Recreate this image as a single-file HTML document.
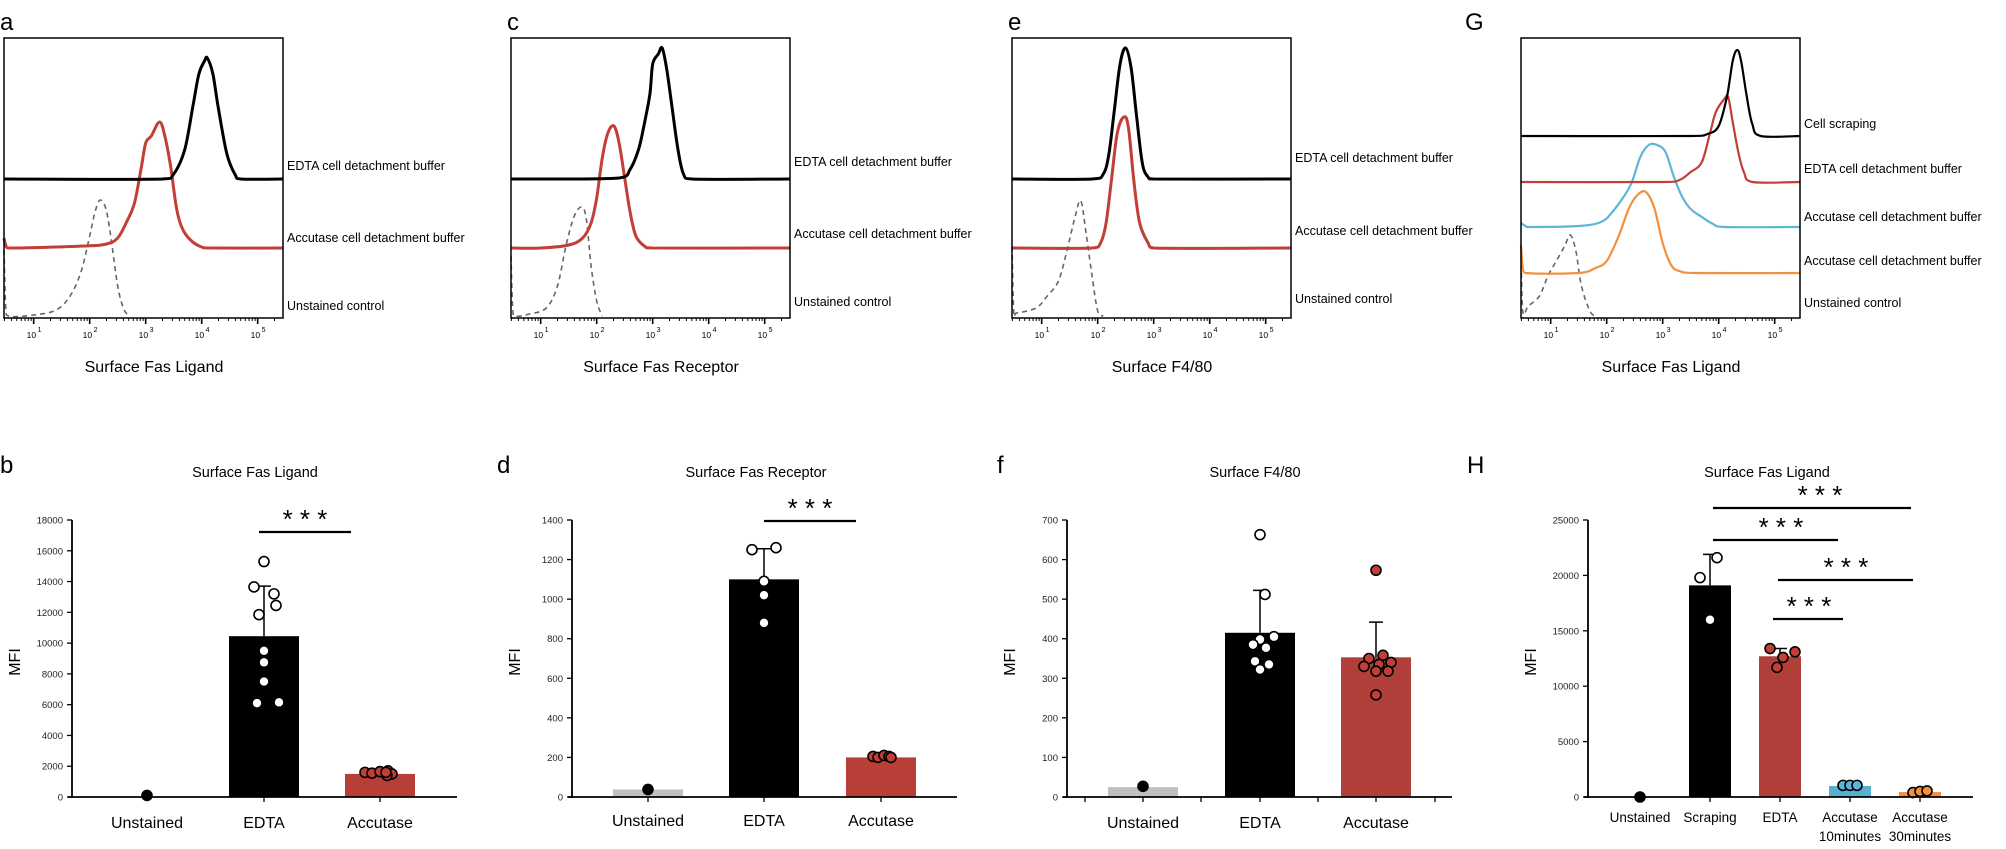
<!DOCTYPE html>
<html><head><meta charset="utf-8"><style>
html,body{margin:0;padding:0;background:#fff}
svg{display:block;font-family:"Liberation Sans",Arial,sans-serif}
</style></head><body>
<svg id="fig" width="2006" height="849" viewBox="0 0 2006 849" xmlns="http://www.w3.org/2000/svg">
<g id="root"></g>
</svg>
<script>
// ---------- Histogram data (log10 fluorescence, height in px above baseline) ----------
const aBlackLog=[0.47,3.3,3.5,3.7,3.85,3.95,4.05,4.1,4.2,4.3,4.45,4.6,4.7,5.45];
const aBlackH=[0,0,5,30,75,105,118,121,105,70,25,4,0,0];
const aRedLog=[0.47,0.5,0.55,1.9,2.3,2.5,2.65,2.8,2.92,3.0,3.1,3.25,3.35,3.45,3.55,3.65,3.8,4.0,4.2,5.45];
const aRedH=[10,3,0,2,4,10,25,45,80,105,112,126,110,80,40,20,8,1,0,0];
const aUnsLog=[0.47,0.5,0.55,1.0,1.4,1.65,1.85,2.0,2.1,2.19,2.3,2.4,2.5,2.6,2.7];
const aUnsH=[66,10,0,1,6,20,45,80,105,116,105,70,30,8,0];

const cBlackLog=[0.47,2.4,2.6,2.75,2.85,2.95,3.0,3.1,3.17,3.25,3.35,3.45,3.55,3.7,5.45];
const cBlackH=[0,1,10,30,55,85,115,125,131,110,70,30,5,0,0];
const cRedLog=[0.47,1.0,1.5,1.75,1.9,2.0,2.1,2.2,2.31,2.4,2.5,2.6,2.7,2.85,3.0,5.45];
const cRedH=[0,0,3,10,25,50,90,115,122,105,70,35,12,2,0,0];
const cUnsLog=[0.47,0.5,0.55,0.8,1.1,1.3,1.45,1.6,1.74,1.82,1.9,2.0,2.1];
const cUnsH=[60,8,0,2,8,30,70,100,109,95,50,15,0];

const eBlackLog=[0.47,1.9,2.1,2.2,2.3,2.4,2.5,2.6,2.7,2.8,2.9,3.0,5.45];
const eBlackH=[0,0,5,25,70,115,131,110,60,15,2,0,0];
const eRedLog=[0.47,1.9,2.05,2.15,2.25,2.35,2.47,2.55,2.65,2.75,2.9,3.0,5.45];
const eRedH=[0,0,5,25,70,115,131,120,65,25,5,0,0];
const eUnsLog=[0.47,0.5,0.55,0.9,1.1,1.3,1.45,1.6,1.7,1.8,1.9,2.0,2.1];
const eUnsH=[70,5,3,8,20,35,65,100,115,80,40,5,0];

const gBlackLog=[0.47,3.5,3.8,4.0,4.15,4.25,4.33,4.4,4.5,4.6,4.75,5.45];
const gBlackH=[0,0,2,10,40,75,86,75,40,12,0,0];
const gRedLog=[0.47,3.0,3.3,3.5,3.7,3.85,3.95,4.1,4.17,4.25,4.35,4.45,4.6,5.45];
const gRedH=[0,0,2,10,20,50,70,83,85,60,30,10,0,0];
const gBlueLog=[0.47,0.55,0.6,1.5,1.9,2.1,2.3,2.45,2.6,2.75,2.9,3.05,3.2,3.35,3.5,3.7,3.9,4.1,5.45];
const gBlueH=[4,1,0,1,5,15,30,45,70,82,82,75,50,30,18,10,3,0,0];
const gOrangeLog=[0.47,0.5,0.55,1.5,1.8,2.0,2.2,2.4,2.55,2.7,2.85,3.0,3.15,3.3,3.6,5.45];
const gOrangeH=[28,6,0,0,5,12,35,65,78,81,65,30,8,2,0,0];
const gUnsLog=[0.47,0.5,0.6,0.8,0.95,1.1,1.25,1.35,1.45,1.55,1.7,1.8];
const gUnsH=[70,5,10,20,40,55,70,81,65,30,5,0];

const histLabelsA=["EDTA cell detachment buffer","Accutase cell detachment buffer","Unstained control"];
const histLabelsG=["Cell scraping","EDTA cell detachment buffer","Accutase cell detachment buffer","Accutase cell detachment buffer","Unstained control"];
const decadeTicks=[1,2,3,4,5];

// ---------- Bar chart data ----------
const catsBDF=["Unstained","EDTA","Accutase"];
const bMeans=[0,10450,1500];
const bErr=[0,13700,1650];
const bPtsUns=[100];
const bPtsEdta=[15300,13650,13200,12450,11850,9500,8750,7500,6100,6150];
const bPtsAcc=[1600,1550,1650,1700,1500,1400,1600];
const bTicks=[0,2000,4000,6000,8000,10000,12000,14000,16000,18000];

const dMeans=[38,1100,200];
const dErr=[38,1255,210];
const dPtsUns=[38];
const dPtsEdta=[1250,1260,1090,1020,880];
const dPtsAcc=[205,200,210,205,200];
const dTicks=[0,200,400,600,800,1000,1200,1400];

const fMeans=[25,415,353];
const fErr=[25,522,442];
const fPtsUns=[27];
const fPtsEdta=[663,512,405,398,385,377,343,335,322];
const fPtsAcc=[573,358,350,340,335,330,318,318,258];
const fTicks=[0,100,200,300,400,500,600,700];

const catsH=["Unstained","Scraping","EDTA","Accutase|10minutes","Accutase|30minutes"];
const hMeans=[0,19100,12700,1000,450];
const hErr=[0,21900,13400,1100,500];
const hPtsUns=[0];
const hPtsScr=[21600,19800,16000];
const hPtsEdta=[13400,13100,12600,11700];
const hPtsAcc10=[1050,1050,1050];
const hPtsAcc30=[400,500,550];
const hTicks=[0,5000,10000,15000,20000,25000];

// ---------- helpers ----------
const NS="http://www.w3.org/2000/svg";
const root=document.getElementById('root');
function mk(tag,attrs,parent){const e=document.createElementNS(NS,tag);for(const k in attrs)e.setAttribute(k,attrs[k]);(parent||root).appendChild(e);return e;}
function txt(x,y,s,size,anchor,parent,extra){const t=mk('text',Object.assign({x:x,y:y,'font-size':size,'text-anchor':anchor||'start',fill:'#000'},extra||{}),parent);t.textContent=s;return t;}
function smoothPath(P){
  let d='M'+P[0][0].toFixed(1)+','+P[0][1].toFixed(1);
  for(let i=0;i<P.length-1;i++){
    const p0=P[Math.max(0,i-1)],p1=P[i],p2=P[i+1],p3=P[Math.min(P.length-1,i+2)];
    let c1x=p1[0]+(p2[0]-p0[0])/6,c1y=p1[1]+(p2[1]-p0[1])/6;
    let c2x=p2[0]-(p3[0]-p1[0])/6,c2y=p2[1]-(p3[1]-p1[1])/6;
    c1x=Math.min(Math.max(c1x,p1[0]),p2[0]);c2x=Math.min(Math.max(c2x,p1[0]),p2[0]);
    d+='C'+c1x.toFixed(1)+','+c1y.toFixed(1)+' '+c2x.toFixed(1)+','+c2y.toFixed(1)+' '+p2[0].toFixed(1)+','+p2[1].toFixed(1);
  }
  return d;
}

const FT=38,FB=318,DEC=56,L0=0.47;

function histPanel(fx,letter,title,curves,labels,labelYs){
  const g=mk('g',{});
  
  
  const lt=txt(fx-4,30,letter,24,'start',g);
  
  
  const xs=l=>fx+(l-L0)*DEC;
  curves.forEach(c=>{
    const P=c.logs.map((l,i)=>[xs(l),c.base-c.h[i]]);
    const p=mk('path',{d:smoothPath(P),fill:'none',stroke:c.color,'stroke-width':c.w,'stroke-linejoin':'round','stroke-dasharray':c.dash||'none'},g);
    
    
  });
  const fr=mk('rect',{x:fx,y:FT,width:279,height:FB-FT,fill:'none',stroke:'#000','stroke-width':1.5},g);
  
  
  for(let d=0;d<=5;d++){
    for(let m=1;m<=9;m++){
      const l=d+Math.log10(m);
      if(l<L0||l>5.45)continue;
      const x=xs(l);
      const len=m===1?6:3;
      const t=mk('line',{x1:x,x2:x,y1:FB,y2:FB+len,stroke:'#000','stroke-width':m===1?1.6:1},g);
      
      
    }
  }
  decadeTicks.forEach(d=>{
    const t=mk('text',{x:xs(d)-7,y:338,'font-size':8.5,fill:'#000'},g);
    
    
    t.textContent='10';
    const s=mk('text',{x:xs(d)+4,y:332,'font-size':7,fill:'#000'},g);
    
    
    s.textContent=String(d);
  });
  const at=txt(fx+150,372,title,16,'middle',g);
  
  
  labels.forEach((s,i)=>{
    const t=txt(fx+283,labelYs[i]+4,s,12.5,'start',g);
    
    
  });
}

const BLACK='#000',RED='#c13f37',BLUE='#5bb6d8',ORANGE='#f0913b',DASH='#666';
histPanel(4,'a','Surface Fas Ligand',[
 {logs:aUnsLog,h:aUnsH,base:316,color:DASH,w:1.6,dash:'5,4',name:'unstained-curve'},
 {logs:aRedLog,h:aRedH,base:248,color:RED,w:3,name:'accutase-curve'},
 {logs:aBlackLog,h:aBlackH,base:179,color:BLACK,w:3,name:'edta-curve'}],histLabelsA,[166,238,306]);
histPanel(511,'c','Surface Fas Receptor',[
 {logs:cUnsLog,h:cUnsH,base:316,color:DASH,w:1.6,dash:'5,4',name:'unstained-curve'},
 {logs:cRedLog,h:cRedH,base:248,color:RED,w:3,name:'accutase-curve'},
 {logs:cBlackLog,h:cBlackH,base:179,color:BLACK,w:3,name:'edta-curve'}],histLabelsA,[162,234,302]);
histPanel(1012,'e','Surface F4/80',[
 {logs:eUnsLog,h:eUnsH,base:316,color:DASH,w:1.6,dash:'5,4',name:'unstained-curve'},
 {logs:eBlackLog,h:eBlackH,base:179,color:BLACK,w:3,name:'edta-curve'},
 {logs:eRedLog,h:eRedH,base:248,color:RED,w:3,name:'accutase-curve'}],histLabelsA,[158,231,299]);
histPanel(1521,'','Surface Fas Ligand',[
 {logs:gUnsLog,h:gUnsH,base:316,color:DASH,w:1.6,dash:'5,4',name:'unstained-curve'},
 {logs:gOrangeLog,h:gOrangeH,base:273,color:ORANGE,w:2.2,name:'accutase-30min-curve'},
 {logs:gBlueLog,h:gBlueH,base:227,color:BLUE,w:2.2,name:'accutase-10min-curve'},
 {logs:gRedLog,h:gRedH,base:182,color:RED,w:2.2,name:'edta-curve'},
 {logs:gBlackLog,h:gBlackH,base:136,color:BLACK,w:2.2,name:'scraping-curve'}],histLabelsG,[124,169,217,261,303]);
{const t=txt(1465,30,'G',24,'start');}

// ---------- bar charts ----------
function barPanel(cfg){
  const g=mk('g',{});
  
  
  const Y0=797,YT=520;
  const ys=v=>Y0-(v/cfg.max)*(Y0-YT);
  const lt=txt(cfg.letterX,473,cfg.letter,24,'start',g);
  
  
  const ti=txt(cfg.titleX,477,cfg.title,14.5,'middle',g);
  
  
  const mf=txt(0,0,'MFI',16,'middle',g,{transform:'translate('+(cfg.ax-52)+',662) rotate(-90)'});
  
  
  cfg.means.forEach((m,i)=>{
    const cx=cfg.cx[i];
    const b=mk('rect',{x:cx-cfg.bw/2,y:ys(m),width:cfg.bw,height:Y0-ys(m),fill:cfg.colors[i]},g);
    
    
    if(cfg.err[i]>m){
      const e=mk('path',{d:'M'+cx+','+ys(m)+'V'+ys(cfg.err[i])+'M'+(cx-7)+','+ys(cfg.err[i])+'H'+(cx+7),stroke:'#000','stroke-width':1.5,fill:'none'},g);
      
      
    }
    const pts=cfg.pts[i];
    pts.forEach((v,j)=>{
      const dx=cfg.dx[i][j]||0;
      const c=mk('circle',{cx:cx+dx,cy:ys(v),r:cfg.r,fill:cfg.ptFill[i],stroke:cfg.ptStroke[i],'stroke-width':1.6},g);
      
      
    });
  });
  const ya=mk('line',{x1:cfg.ax,x2:cfg.ax,y1:YT,y2:Y0+1,stroke:'#000','stroke-width':1.8},g);
  
  
  const xa=mk('line',{x1:cfg.ax-4,x2:cfg.xEnd,y1:Y0,y2:Y0,stroke:'#000','stroke-width':1.8},g);
  
  
  cfg.ticks.forEach(v=>{
    const t=mk('line',{x1:cfg.ax-5,x2:cfg.ax,y1:ys(v),y2:ys(v),stroke:'#000','stroke-width':1.3},g);
    
    
    const l=txt(cfg.ax-9,ys(v)+3.5,String(v),9.5,'end',g,{fill:'#222'});
    
    
  });
  cfg.xticks.forEach(x=>{
    const t=mk('line',{x1:x,x2:x,y1:Y0,y2:Y0+5,stroke:'#000','stroke-width':1.3},g);
    
    
  });
  cfg.cats.forEach((c,i)=>{
    const parts=c.split('|');
    parts.forEach((p,k)=>{
      const l=txt(cfg.cx[i],cfg.catY+k*19,p,cfg.catSize,'middle',g);
      
      
    });
  });
  cfg.sig.forEach(s=>{
    const ln=mk('line',{x1:s[0],x2:s[1],y1:s[2],y2:s[2],stroke:'#000','stroke-width':2.2},g);
    
    
    const st=txt(s[3],s[2]-4,'*  *  *',26,'middle',g,{'xml:space':'preserve'});
    
    
  });
}
const OPEN='#fff';
barPanel({letter:'b',letterX:0,title:'Surface Fas Ligand',titleX:255,ax:72,xEnd:457,max:18000,
  cx:[147,264,380],bw:70,means:bMeans,err:bErr,colors:['#c0c0c0','#000','#b83f38'],
  pts:[bPtsUns,bPtsEdta,bPtsAcc],dx:[[0],[0,-10,10,12,-5,0,0,0,-7,15],[-15,-8,0,8,12,7,6]],
  ptFill:['#000',OPEN,'#c13f37'],ptStroke:['#000','#000','#000'],r:5,
  ticks:bTicks,xticks:[264,380],cats:catsBDF,catY:828,catSize:16,
  sig:[[259,351,532,305]]});
barPanel({letter:'d',letterX:497,title:'Surface Fas Receptor',titleX:756,ax:572,xEnd:957,max:1400,
  cx:[648,764,881],bw:70,means:dMeans,err:dErr,colors:['#c0c0c0','#000','#b83f38'],
  pts:[dPtsUns,dPtsEdta,dPtsAcc],dx:[[0],[-12,12,0,0,0],[-8,-3,3,8,10]],
  ptFill:['#000',OPEN,'#c13f37'],ptStroke:['#000','#000','#000'],r:5,
  ticks:dTicks,xticks:[648,764,881],cats:catsBDF,catY:826,catSize:16,
  sig:[[764,856,521,810]]});
barPanel({letter:'f',letterX:997,title:'Surface F4/80',titleX:1255,ax:1067,xEnd:1452,max:700,
  cx:[1143,1260,1376],bw:70,means:fMeans,err:fErr,colors:['#c0c0c0','#000','#b03f3a'],
  pts:[fPtsUns,fPtsEdta,fPtsAcc],dx:[[0],[0,5,14,0,-7,6,-5,9,0],[0,7,-7,15,3,-12,0,12,0]],
  ptFill:['#000',OPEN,'#c13f37'],ptStroke:['#000','#000','#000'],r:5,
  ticks:fTicks,xticks:[1085,1143,1201,1260,1318,1376,1435],cats:catsBDF,catY:828,catSize:16,
  sig:[]});
barPanel({letter:'H',letterX:1467,title:'Surface Fas Ligand',titleX:1767,ax:1588,xEnd:1973,max:25000,
  cx:[1640,1710,1780,1850,1920],bw:42,means:hMeans,err:hErr,colors:['#c0c0c0','#000','#b03f3a','#5aaed0','#ee8f45'],
  pts:[hPtsUns,hPtsScr,hPtsEdta,hPtsAcc10,hPtsAcc30],dx:[[0],[7,-10,0],[-10,15,3,-3],[-7,0,7],[-7,0,7]],
  ptFill:['#000',OPEN,'#c13f37','#5bb6d8','#f0913b'],ptStroke:['#000','#000','#000','#000','#000'],r:5,
  ticks:hTicks,xticks:[1710,1780,1850,1920],cats:catsH,catY:822,catSize:13.5,
  sig:[[1713,1911,508,1820],[1713,1838,540,1781],[1778,1913,580,1846],[1773,1843,619,1809]]});
</script>
</body></html>
